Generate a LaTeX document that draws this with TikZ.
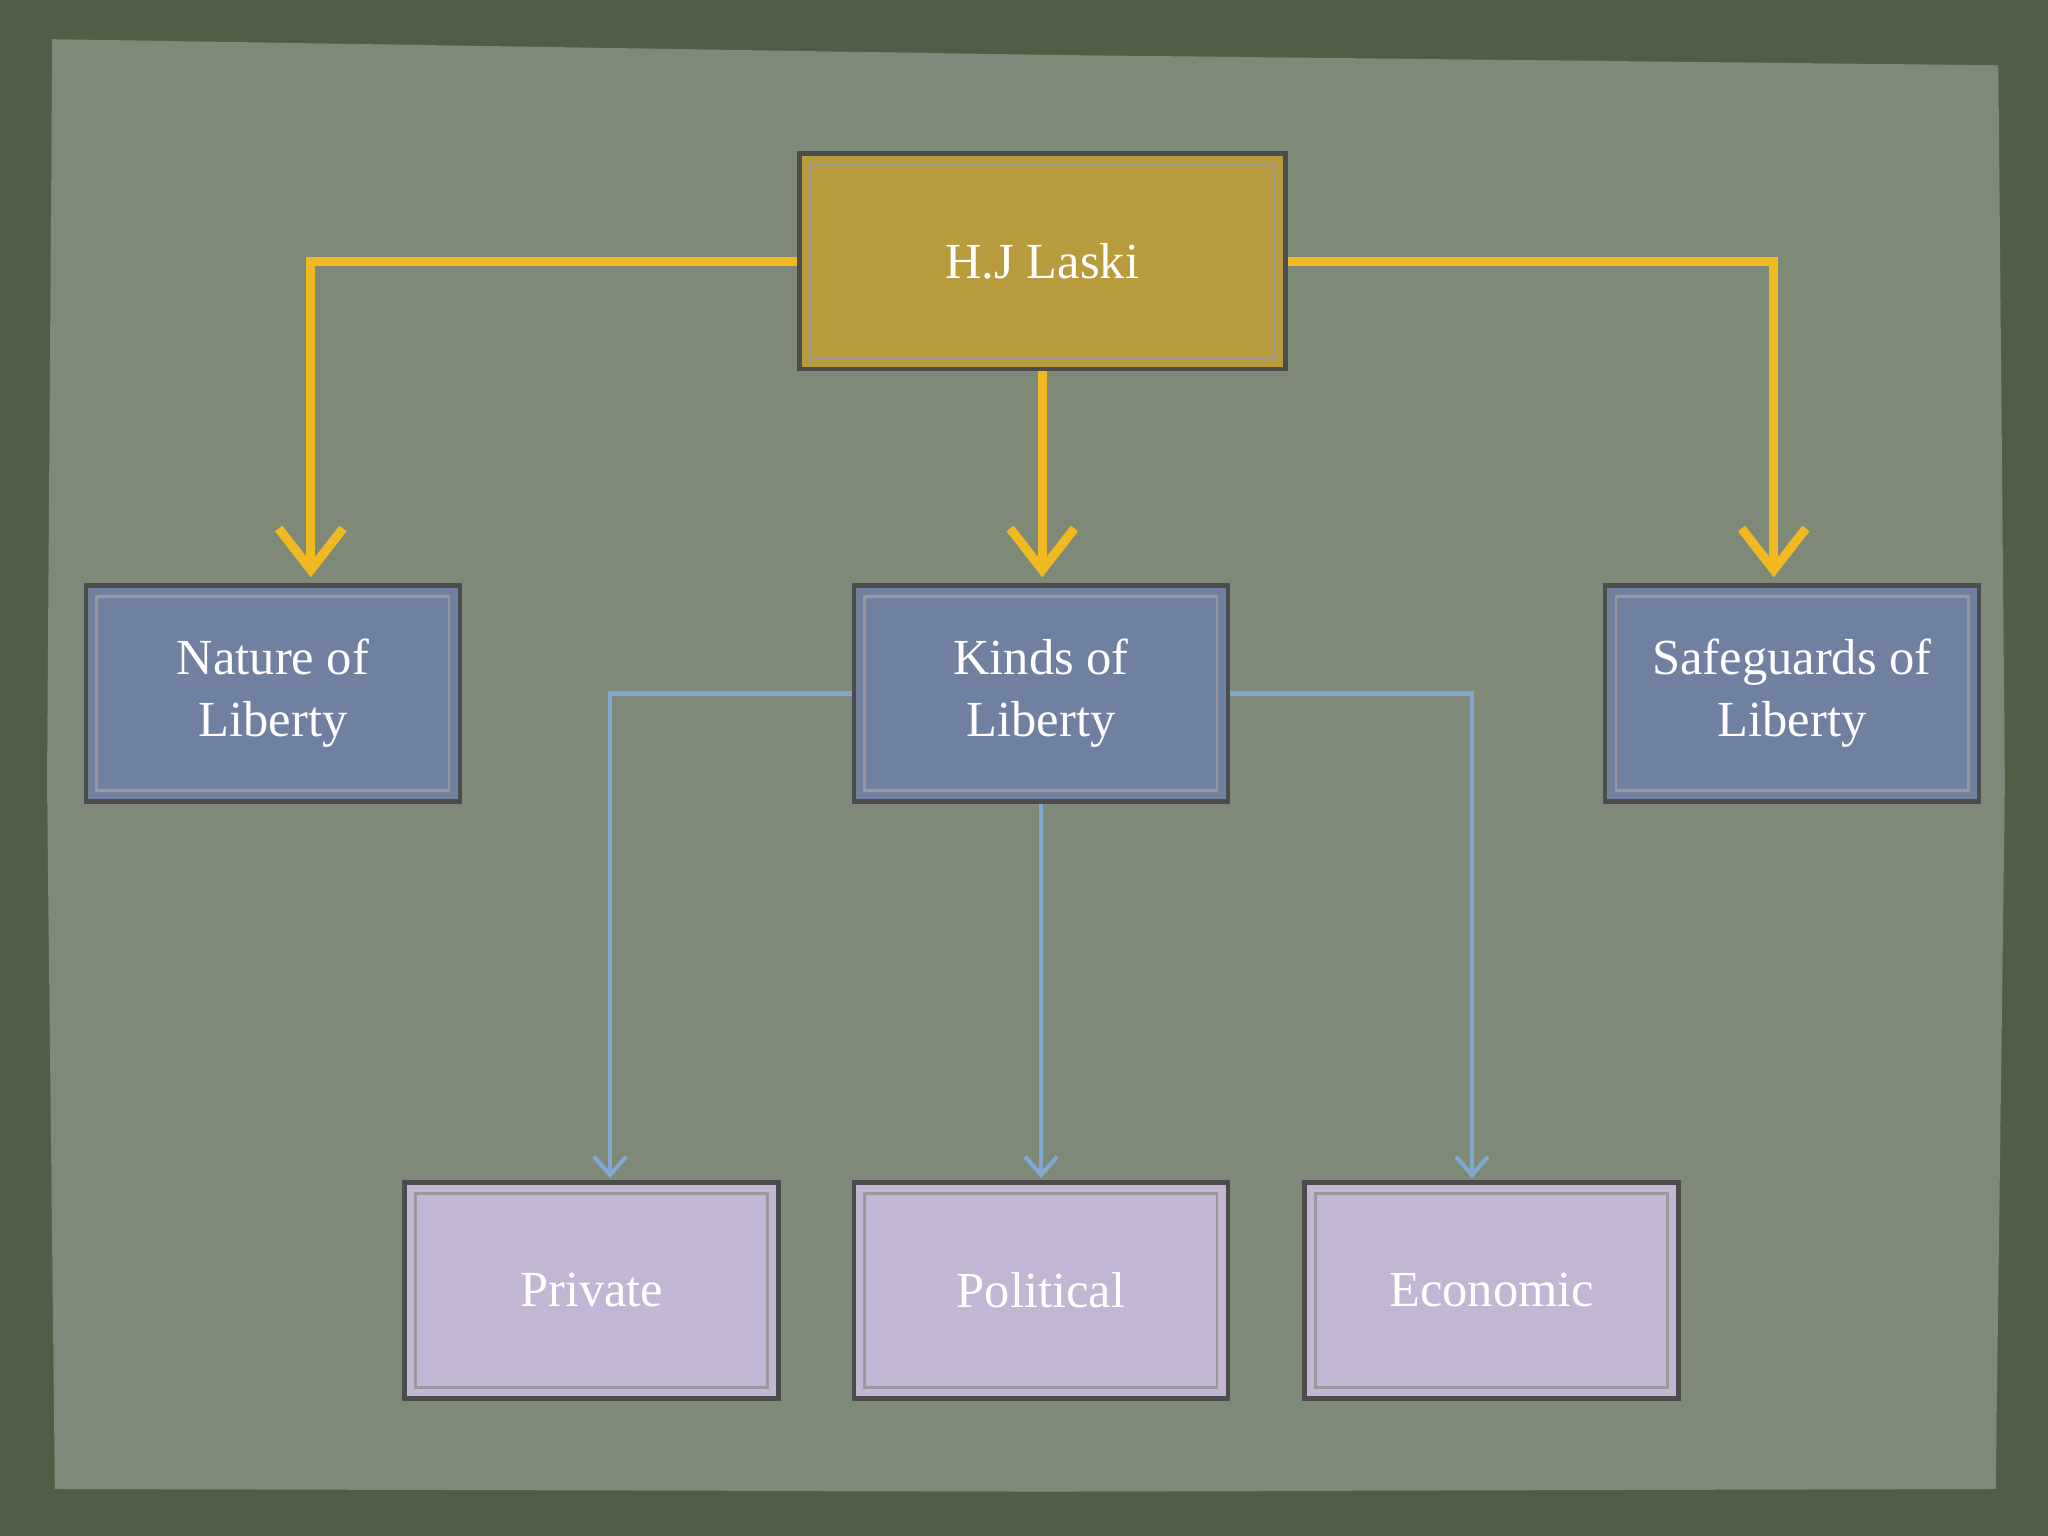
\documentclass[tikz,border=0pt]{standalone}
\usepackage{fontspec}
\setmainfont{Liberation Serif}
\usetikzlibrary{arrows.meta}
\definecolor{frame}{HTML}{505E46}
\definecolor{paper}{HTML}{7E8977}
\definecolor{gold}{HTML}{B89B3C}
\definecolor{goldline}{HTML}{F0B922}
\definecolor{bluebox}{HTML}{6F80A0}
\definecolor{lav}{HTML}{C3B6D4}
\definecolor{blueline}{HTML}{7FA9D2}
\begin{document}
\begin{tikzpicture}[x=0.01cm,y=-0.01cm,
 box/.style={draw=black!70,line width=1pt,minimum width=2.86cm,minimum height=1.65cm,inner sep=0pt,text=white,font=\fontsize{11pt}{13.5pt}\selectfont,align=center},
 inner/.style={draw=black!40,line width=0.6pt},
 gl/.style={draw=goldline,line width=2pt,-{Straight Barb[length=9pt,width=14pt,line width=2pt]}},
 bl/.style={draw=blueline,line width=0.9pt,-{Straight Barb[length=4pt,width=7pt]}}]
\fill[frame] (0,0) rectangle (1568,1176);
\fill[paper] (40,30) -- (800,42) -- (1530,50) -- (1535,600) -- (1528,1140) -- (800,1142) -- (42,1140) -- (36,600) -- cycle;
\node[box,fill=gold,minimum width=3.72cm] (laski) at (798,200) {H.J Laski};
\node[box,fill=bluebox] (nature) at (209,531) {Nature of\\Liberty};
\node[box,fill=bluebox] (kinds) at (797,531) {Kinds of\\Liberty};
\node[box,fill=bluebox] (safe) at (1372,531) {Safeguards of\\Liberty};
\node[box,fill=lav] (priv) at (453,988) {Private};
\node[box,fill=lav] (pol) at (797,988) {Political};
\node[box,fill=lav] (eco) at (1142,988) {Economic};
\foreach \n in {laski,nature,kinds,safe,priv,pol,eco}
  \draw[inner] ([shift={(10,10)}]\n.north west) rectangle ([shift={(-10,-10)}]\n.south east);
\coordinate (a1) at (238,442); \coordinate (a2) at (798,442); \coordinate (a3) at (1358,442);
\draw[gl] (laski.west) -| (a1);
\draw[gl] (laski.south) -- (a2);
\draw[gl] (laski.east) -| (a3);
\coordinate (b1) at (467,902); \coordinate (b2) at (797,902); \coordinate (b3) at (1127,902);
\draw[bl] (kinds.west) -| (b1);
\draw[bl] (kinds.south) -- (b2);
\draw[bl] (kinds.east) -| (b3);
\end{tikzpicture}
\end{document}
